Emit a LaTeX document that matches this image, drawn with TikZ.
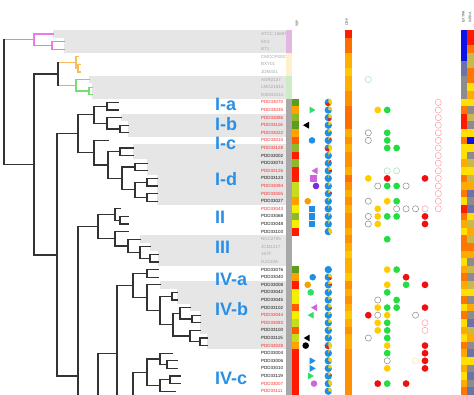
\documentclass[tikz,border=0pt]{standalone}
\usepackage{fontspec}
\setmainfont{Liberation Sans}
\usetikzlibrary{shapes.geometric}

\definecolor{treegrey}{HTML}{333333}
\definecolor{cladepink}{HTML}{EE77EE}
\definecolor{cladeorange}{HTML}{F6BC5E}
\definecolor{cladegreen}{HTML}{72E072}
\definecolor{bandgrey}{HTML}{E6E6E6}
\definecolor{lgrey}{HTML}{A8A8A8}
\definecolor{lred}{HTML}{FF2A2A}
\definecolor{lblack}{HTML}{111111}
\definecolor{groupblue}{HTML}{2A8FE5}
\definecolor{stPink}{HTML}{E3B5E3}
\definecolor{stYel}{HTML}{FDF0CC}
\definecolor{stGrn}{HTML}{CDEBC6}
\definecolor{stGrey}{HTML}{A8A8A8}
\definecolor{mgreen}{HTML}{2EDD6A}
\definecolor{mblue}{HTML}{1F8FE6}
\definecolor{mviolet}{HTML}{CC66DD}
\definecolor{mpurple}{HTML}{7A2AE0}
\definecolor{morange}{HTML}{F5A000}
\definecolor{mblack}{HTML}{000000}
\definecolor{dotyel}{HTML}{FFCC00}
\definecolor{dotgrn}{HTML}{22DD44}
\definecolor{dotred}{HTML}{EE1111}
\definecolor{dotgrey}{HTML}{888888}
\definecolor{dotlgrn}{HTML}{A0E0B0}
\definecolor{dotlred}{HTML}{FF9C9C}
\definecolor{dotlyel}{HTML}{FFE49A}
\definecolor{pieB}{HTML}{1E8FE6}
\definecolor{pieY}{HTML}{FFD000}
\definecolor{pieR}{HTML}{E02020}
% age colours
\definecolor{aG1}{HTML}{5E9C1E}
\definecolor{aG2}{HTML}{8DB82A}
\definecolor{aO}{HTML}{FFA200}
\definecolor{aR}{HTML}{FF1A00}
\definecolor{aOR}{HTML}{FF5A00}
\definecolor{aY}{HTML}{F2F000}
\definecolor{aYG}{HTML}{C8DC1E}
% CRF colours
\definecolor{cr1}{HTML}{FF1E00}
\definecolor{cr2}{HTML}{FF6E00}
\definecolor{cr3}{HTML}{FF9000}
\definecolor{cr4}{HTML}{FFAE00}
\definecolor{cr5}{HTML}{FFC800}
% EXTRA / INTRA colours
\definecolor{hR}{HTML}{FF1A00}
\definecolor{hO}{HTML}{FF7700}
\definecolor{hA}{HTML}{FFAA00}
\definecolor{hY}{HTML}{FFE000}
\definecolor{hK}{HTML}{C8BA4A}
\definecolor{hG}{HTML}{8C8C8C}
\definecolor{hS}{HTML}{6B73A8}
\definecolor{hB}{HTML}{0A14E6}

\begin{document}
\begin{tikzpicture}[x=1pt, y=-1pt,
    br/.style={draw=treegrey, line width=1.3pt, line cap=rect},
    pinkbr/.style={br, draw=cladepink},
    orangebr/.style={br, draw=cladeorange},
    greenbr/.style={br, draw=cladegreen},
    leaflab/.style={anchor=west, inner sep=0pt, font=\fontsize{4.5}{5}\selectfont},
    grouplab/.style={anchor=west, inner sep=0pt, text=groupblue,
                     font=\fontsize{18}{18}\selectfont\bfseries},
    headlab/.style={rotate=90, anchor=west, inner sep=0pt, text=black!70,
                    font=\fontsize{3.6}{4}\selectfont},
    mk/.style={inner sep=0pt, draw=none},
    triR/.style={mk, regular polygon, regular polygon sides=3,
                 shape border rotate=-90, minimum size=8pt},
    triL/.style={mk, regular polygon, regular polygon sides=3,
                 shape border rotate=90, minimum size=8pt},
    sq/.style={mk, rectangle, minimum size=6.4pt},
    circ/.style={mk, circle, minimum size=6.6pt},
    dot/.style={circle, inner sep=0pt, minimum size=6.8pt},
    dY/.style={dot, fill=dotyel},
    dG/.style={dot, fill=dotgrn},
    dR/.style={dot, fill=dotred},
    oG/.style={dot, draw=dotgrey, line width=0.5pt, minimum size=6.2pt},
    oLG/.style={dot, draw=dotlgrn, line width=0.5pt, minimum size=6.2pt},
    oLR/.style={dot, draw=dotlred, line width=0.5pt, minimum size=6.2pt},
    oLY/.style={dot, draw=dotlyel, line width=0.5pt, minimum size=6.2pt}]

  \useasboundingbox (0,0) rectangle (474,394);
  \clip (0,0) rectangle (474,394);

  % leaves: row / tip / band / label / colour
  \foreach \i/\t/\b/\lab/\col in {
      0/53/1/ATCC 15697/lgrey, 1/64/1/EK3/lgrey, 2/64/1/BT1/lgrey,
      3/78/0/CMCCP0001/lgrey, 4/80/0/BXY01/lgrey, 5/80/0/JDM301/lgrey,
      6/89/1/AGR2137/lgrey, 7/92/1/LMG21814/lgrey, 8/92/1/DSM20211/lgrey,
      9/118/0/PDD33070/lred, 10/118/0/PDD33035/lred,
      11/121/1/PDD33086/lred, 12/128/1/PDD33116/lred, 13/128/1/PDD33022/lred,
      14/108/0/PDD33015/lred,
      15/133/1/PDD33128/lred, 16/133/1/PDD33002/lblack, 17/147/1/PDD33074/lblack,
      18/147/1/PDD33126/lred, 19/157/1/PDD33123/lblack, 20/157/1/PDD33094/lred,
      21/157/1/PDD33055/lred, 22/157/1/PDD33027/lblack,
      23/120/0/PDD33043/lred, 24/128/0/PDD33068/lblack, 25/128/0/PDD33048/lblack,
      26/128/0/PDD33103/lblack,
      27/140/1/NCC2705/lgrey, 28/150/1/JCM1217/lgrey, 29/158/1/157F/lgrey,
      30/158/1/DJO10A/lgrey,
      31/158/0/PDD33076/lblack, 32/158/0/PDD33040/lblack,
      33/160/1/PDD33008/lblack, 34/177/1/PDD33042/lblack, 35/177/1/PDD33045/lblack,
      36/190/1/PDD33102/lblack, 37/200/1/PDD33044/lred, 38/200/1/PDD33083/lred,
      39/200/1/PDD33100/lblack, 40/207/1/PDD33115/lblack, 41/207/1/PDD33028/lred,
      42/172/0/PDD33004/lblack, 43/177/0/PDD33006/lblack, 44/177/0/PDD33010/lblack,
      45/180/0/PDD33119/lblack, 46/180/0/PDD33007/lred, 47/175/0/PDD33111/lred} {
    \ifnum\b=1
      \fill[bandgrey] (\t,{30.2+7.6*\i}) rectangle (285.5,{37.8+7.6*\i});
    \fi
    \coordinate (l\i) at (\t,{34+7.6*\i});
    \node[leaflab, text=\col] (n\i) at (261,{34+7.6*\i}) {\lab};
  }

  % inner nodes of the tree
  \coordinate (p1) at (52,45.4);    \coordinate (p0) at (34,39.7);
  \coordinate (o1) at (78,68.2);    \coordinate (o0) at (76,62.5);
  \coordinate (g1) at (89,91);      \coordinate (g0) at (76,85.3);
  \coordinate (og) at (58,73.9);
  \coordinate (a1) at (107,106.2);  \coordinate (b1) at (120,129);
  \coordinate (b0) at (107,123.3);  \coordinate (E) at (94,114.75);
  \coordinate (d1) at (120,151.8);  \coordinate (d2) at (135,167);
  \coordinate (d3) at (147,182.2);  \coordinate (d4) at (147,197.4);
  \coordinate (d5) at (135,189.8);  \coordinate (d6) at (122,178.4);
  \coordinate (H) at (108,165.1);   \coordinate (G) at (94,152.75);
  \coordinate (B) at (78,133.75);
  \coordinate (e1) at (120,220.2);  \coordinate (e0) at (115,214.5);
  \coordinate (f3) at (150,258.2);  \coordinate (f2) at (140,252.5);
  \coordinate (f1) at (128,245.85); \coordinate (f0) at (115,238.7);
  \coordinate (K) at (98,226.6);
  \coordinate (h0) at (147,273.4);  \coordinate (q1) at (172,296.2);
  \coordinate (s1) at (192,319);    \coordinate (s0) at (180,313.3);
  \coordinate (t1) at (200,341.8);  \coordinate (t0) at (190,336.1);
  \coordinate (R) at (173,324.7);   \coordinate (Q) at (160,310.45);
  \coordinate (P) at (147,297.6);   \coordinate (O) at (133,285.5);
  \coordinate (v1) at (167,364.6);  \coordinate (V) at (160,358.9);
  \coordinate (w1) at (170,379.8);  \coordinate (W) at (160,385.5);
  \coordinate (U) at (147,372.2);
  \coordinate (Toff) at (150,470);  \coordinate (T) at (133,421);
  \coordinate (N) at (117,353.25);
  \coordinate (Moff) at (120,700);  \coordinate (M) at (98,526);
  \coordinate (D) at (78,376);      \coordinate (C) at (57,254.9);
  \coordinate (A) at (34,164.4);    \coordinate (root) at (4,102);

  % branches
  \draw[pinkbr] (l1) -| (p1) |- (l2);
  \draw[pinkbr] (l0) -| (p0) |- (p1);
  \draw[orangebr] (l4) -| (o1) |- (l5);
  \draw[orangebr] (l3) -| (o0) |- (o1);
  \draw[greenbr] (l7) -| (g1) |- (l8);
  \draw[greenbr] (l6) -| (g0) |- (g1);
  \draw[orangebr] (o0) -- (o0 -| og);
  \draw[greenbr] (g0) -- (g0 -| og);
  \draw[br] (o0 -| og) -- (g0 -| og);
  \draw[br] (l9) -| (a1) |- (l10);
  \draw[br] (l12) -| (b1) |- (l13);
  \draw[br] (l11) -| (b0) |- (b1);
  \draw[br] (a1) -| (E) |- (b0);
  \draw[br] (l15) -| (d1) |- (l16);
  \draw[br] (l17) -| (d2) |- (l18);
  \draw[br] (l19) -| (d3) |- (l20);
  \draw[br] (l21) -| (d4) |- (l22);
  \draw[br] (d3) -| (d5) |- (d4);
  \draw[br] (d2) -| (d6) |- (d5);
  \draw[br] (d1) -| (H) |- (d6);
  \draw[br] (l14) -| (G) |- (H);
  \draw[br] (E) -| (B) |- (G);
  \draw[br] (l24) -| (e1) |- (l25);
  \draw[br] (l23) -| (e0) |- (e1);
  \draw[br] (l29) -| (f3) |- (l30);
  \draw[br] (l28) -| (f2) |- (f3);
  \draw[br] (l27) -| (f1) |- (f2);
  \draw[br] (l26) -| (f0) |- (f1);
  \draw[br] (e0) -| (K) |- (f0);
  \draw[br] (l31) -| (h0) |- (l32);
  \draw[br] (l34) -| (q1) |- (l35);
  \draw[br] (l37) -| (s1) |- (l38);
  \draw[br] (l36) -| (s0) |- (s1);
  \draw[br] (l40) -| (t1) |- (l41);
  \draw[br] (l39) -| (t0) |- (t1);
  \draw[br] (s0) -| (R) |- (t0);
  \draw[br] (q1) -| (Q) |- (R);
  \draw[br] (l33) -| (P) |- (Q);
  \draw[br] (h0) -| (O) |- (P);
  \draw[br] (l43) -| (v1) |- (l44);
  \draw[br] (l42) -| (V) |- (v1);
  \draw[br] (l45) -| (w1) |- (l46);
  \draw[br] (w1) -| (W) |- (l47);
  \draw[br] (V) -| (U) |- (W);
  \draw[br] (U) -| (T) |- (Toff);
  \draw[br] (O) -| (N) |- (T);
  \draw[br] (N) -| (M) |- (Moff);
  \draw[br] (K) -| (D) |- (M);
  \draw[br] (B) -| (C) |- (D);
  \draw[br] (og) -| (A) |- (C);
  \draw[pinkbr] (p0) -- (p0 -| root);
  \draw[br] (p0 -| root) |- (A);

  % clade names
  \node[grouplab] (gIa) at (215,104) {I-a};
  \node[grouplab] (gIb) at (215,124) {I-b};
  \node[grouplab] (gIc) at (215,143) {I-c};
  \node[grouplab] (gId) at (215,179) {I-d};
  \node[grouplab] (gII) at (215,217) {II};
  \node[grouplab] (gIII) at (215,247) {III};
  \node[grouplab] (gIVa) at (215,279) {IV-a};
  \node[grouplab] (gIVb) at (215,309) {IV-b};
  \node[grouplab] (gIVc) at (215,378) {IV-c};

  % subspecies strip
  \fill[stPink] (285.5,30.2) rectangle (292.3,53);
  \fill[stYel] (285.5,53) rectangle (292.3,75.8);
  \fill[stGrn] (285.5,75.8) rectangle (292.3,98.6);
  \fill[stGrey] (285.5,98.6) rectangle (292.3,396);

  % age
  \foreach \i/\c in {9/aG1, 10/aO, 11/aG2, 12/aG1, 13/aO, 14/aOR, 15/aG2, 16/aR,
      17/aG2, 18/aR, 19/aR, 20/aYG, 21/aYG, 22/aO, 23/aY, 24/aG2, 25/aY, 26/aR,
      31/aG1, 32/aO, 33/aR, 34/aY, 35/aY, 36/aOR, 37/aY, 38/aYG, 39/aOR, 40/aYG,
      41/aO, 42/aR, 43/aR, 44/aR, 45/aR, 46/aR, 47/aR}
    \fill[\c] (292.3,{30.2+7.6*\i}) rectangle (299,{37.9+7.6*\i});
  \node[headlab] (hage) at (297,27) {age};

  % markers
  \foreach \i/\x/\shp/\col in {10/311.5/triR/mgreen, 12/307/triL/mblack,
      14/312/circ/mblue, 18/315.5/triL/mviolet, 19/313.3/sq/mviolet,
      20/316/circ/mpurple, 22/307.7/circ/morange, 23/311.7/sq/mblue,
      24/311.7/sq/mblue, 25/311.7/sq/mblue, 32/312.7/circ/mblue,
      33/307.7/circ/morange, 34/310.7/circ/mgreen, 36/315/triL/mviolet,
      37/311.7/triL/mgreen, 40/307.7/triL/mblack, 41/305.7/circ/mblack,
      43/311.7/triR/mblue, 44/311.7/triR/mblue, 45/310/triR/mgreen,
      46/314/circ/mviolet}
    \node[\shp, fill=\col] (m\i) at (\x,{34+7.6*\i}) {};

  % pies
  \foreach \i/\yy/\rr in {9/140/110, 10/100/0, 11/110/70, 12/70/0, 13/50/0,
      14/40/25, 15/160/100, 16/40/0, 17/30/20, 18/70/40, 19/20/0, 20/50/0,
      21/60/30, 22/30/0, 23/25/0, 24/45/0, 25/35/0, 26/140/0,
      31/0/0, 32/100/40, 33/70/30, 34/40/0, 35/60/0, 36/90/20, 37/50/0,
      38/80/0, 39/60/0, 40/40/0, 41/170/110, 42/30/0, 43/120/0, 44/90/0,
      45/60/20, 46/140/0, 47/100/0} {
    \coordinate (pc\i) at (328.3,{34+7.6*\i});
    \fill[pieB] (pc\i) circle (3.7pt);
    \ifnum\yy>0
      \fill[pieY] (pc\i) -- ++(90:3.7pt)
        arc[start angle=90, end angle={90-\yy}, radius=3.7pt] -- cycle;
    \fi
    \ifnum\rr>0
      \fill[pieR] (pc\i) -- ++({90-\yy}:3.7pt)
        arc[start angle={90-\yy}, end angle={90-\yy-\rr}, radius=3.7pt] -- cycle;
    \fi
  }

  % CRF
  \foreach \i/\c in {0/cr1, 1/cr2, 2/cr2, 3/cr4, 4/cr4, 5/cr5, 6/cr4, 7/cr4,
      8/cr3, 9/cr3, 10/cr2, 11/cr2, 12/cr2, 13/cr4, 14/cr3, 15/cr4, 16/cr3,
      17/cr3, 18/cr4, 19/cr2, 20/cr3, 21/cr4, 22/cr3, 23/cr4, 24/cr3, 25/cr3,
      26/cr4, 27/cr3, 28/cr4, 29/cr5, 30/cr4, 31/cr4, 32/cr5, 33/cr3, 34/cr4,
      35/cr3, 36/cr4, 37/cr5, 38/cr4, 39/cr3, 40/cr4, 41/cr4, 42/cr3, 43/cr3,
      44/cr3, 45/cr3, 46/cr3, 47/cr3}
    \fill[\c] (345,{30.2+7.6*\i}) rectangle (351.7,{37.9+7.6*\i});
  \node[headlab] (hcrf) at (347,26) {CRF};

  % dot matrix
  \foreach \i/\k/\s in {6/1/oLG, 10/2/dY, 10/3/dG, 13/1/oG, 13/3/dG, 14/1/oG,
      14/3/dG, 15/3/dG, 15/4/dG, 18/3/oLG, 18/4/oLG, 19/1/dY, 19/3/dR, 19/7/dR,
      20/2/oG, 20/3/dG, 20/4/dG, 20/5/oG, 22/1/oG, 22/3/dY, 22/4/dG,
      23/2/dY, 23/4/oG, 23/5/oG, 23/6/oG, 23/7/oLR,
      24/1/oG, 24/2/dY, 24/3/dG, 24/4/dG, 24/7/dR, 25/1/oG, 25/2/dY, 25/7/dR,
      27/3/dG, 31/3/dY, 31/4/dG, 32/5/dR, 33/3/dY, 33/5/dG, 33/7/dR,
      34/3/dG, 35/2/oG, 35/4/dG, 36/2/dY, 36/3/dG, 36/4/dG, 36/7/dR,
      37/1/dR, 37/2/oG, 37/3/dY, 37/6/oG, 38/2/dY, 38/3/dG, 38/7/oLR,
      39/2/dY, 39/3/dG, 39/7/oLR, 40/1/oG, 40/3/dG, 41/3/dY, 41/7/dR,
      42/3/dG, 42/7/dR, 43/3/oG, 43/6/oLY, 43/7/dR, 44/3/dY, 44/7/dR,
      46/2/dR, 46/3/dG, 46/5/dR}
    \node[\s] (dot\i-\k) at ({368.3+9.45*(\k-1)},{34+7.6*\i}) {};
  \foreach \i in {9,...,23}
    \node[oLR] (dot\i-8) at (438.3,{34+7.6*\i}) {};

  % EXTRA / INTRA
  \foreach \i/\a/\b in {0/hB/hR, 1/hB/hR, 2/hB/hO, 3/hB/hK, 4/hS/hK, 5/hS/hO,
      6/hG/hO, 7/hG/hY, 8/hG/hA, 9/hY/hY, 10/hO/hG, 11/hR/hK, 12/hR/hG,
      13/hY/hY, 14/hO/hB, 15/hY/hY, 16/hY/hG, 17/hA/hK, 18/hY/hY, 19/hO/hK,
      20/hA/hA, 21/hO/hS, 22/hY/hG, 23/hR/hS, 24/hO/hY, 25/hA/hK, 26/hY/hA,
      27/hO/hK, 28/hO/hO, 29/hA/hA, 30/hY/hG, 31/hA/hK, 32/hO/hG, 33/hA/hK,
      34/hY/hY, 35/hO/hG, 36/hY/hA, 37/hO/hG, 38/hY/hS, 39/hA/hK, 40/hY/hA,
      41/hO/hG, 42/hA/hS, 43/hY/hY, 44/hA/hG, 45/hY/hS, 46/hA/hG, 47/hO/hS} {
    \fill[\a] (460.5,{30.2+7.6*\i}) rectangle (467.3,{37.9+7.6*\i});
    \fill[\b] (467.3,{30.2+7.6*\i}) rectangle (474,{37.9+7.6*\i});
  }
  \node[headlab] (hextra) at (463.5,23) {EXTRA};
  \node[headlab] (hintra) at (470.2,23) {INTRA};
\end{tikzpicture}
\end{document}
